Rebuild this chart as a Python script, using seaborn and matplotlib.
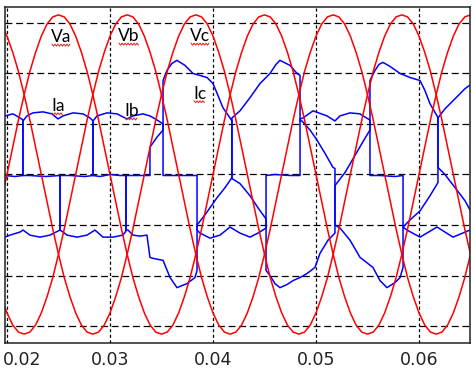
import numpy as np
import pandas as pd
import matplotlib
matplotlib.use('Agg')
import matplotlib.pyplot as plt
import matplotlib.transforms as mtransforms
from matplotlib.lines import Line2D
import seaborn as sns

# supply voltages, one sample every 10 deg of the 50 Hz wave
t_v = np.linspace(0.02 - 0.02 / 36, 0.065, 83)
va = [-0.27,
      0, 0.27, 0.54, 0.79, 1.02, 1.21, 1.37, 1.49, 1.56, 1.58, 1.56, 1.49, 1.37, 1.21, 1.02, 0.79, 0.54, 0.27,
      0, -0.27, -0.54, -0.79, -1.02, -1.21, -1.37, -1.49, -1.56, -1.58, -1.56, -1.49, -1.37, -1.21, -1.02, -0.79, -0.54, -0.27,
      0, 0.27, 0.54, 0.79, 1.02, 1.21, 1.37, 1.49, 1.56, 1.58, 1.56, 1.49, 1.37, 1.21, 1.02, 0.79, 0.54, 0.27,
      0, -0.27, -0.54, -0.79, -1.02, -1.21, -1.37, -1.49, -1.56, -1.58, -1.56, -1.49, -1.37, -1.21, -1.02, -0.79, -0.54, -0.27,
      0, 0.27, 0.54, 0.79, 1.02, 1.21, 1.37, 1.49, 1.56, 1.58]
vb = [-1.21, -1.37, -1.49, -1.56, -1.58, -1.56, -1.49, -1.37, -1.21, -1.02, -0.79, -0.54, -0.27,
      0, 0.27, 0.54, 0.79, 1.02, 1.21, 1.37, 1.49, 1.56, 1.58, 1.56, 1.49, 1.37, 1.21, 1.02, 0.79, 0.54, 0.27,
      0, -0.27, -0.54, -0.79, -1.02, -1.21, -1.37, -1.49, -1.56, -1.58, -1.56, -1.49, -1.37, -1.21, -1.02, -0.79, -0.54, -0.27,
      0, 0.27, 0.54, 0.79, 1.02, 1.21, 1.37, 1.49, 1.56, 1.58, 1.56, 1.49, 1.37, 1.21, 1.02, 0.79, 0.54, 0.27,
      0, -0.27, -0.54, -0.79, -1.02, -1.21, -1.37, -1.49, -1.56, -1.58, -1.56, -1.49, -1.37, -1.21, -1.02, -0.79]
vc = [1.49, 1.37, 1.21, 1.02, 0.79, 0.54, 0.27,
      0, -0.27, -0.54, -0.79, -1.02, -1.21, -1.37, -1.49, -1.56, -1.58, -1.56, -1.49, -1.37, -1.21, -1.02, -0.79, -0.54, -0.27,
      0, 0.27, 0.54, 0.79, 1.02, 1.21, 1.37, 1.49, 1.56, 1.58, 1.56, 1.49, 1.37, 1.21, 1.02, 0.79, 0.54, 0.27,
      0, -0.27, -0.54, -0.79, -1.02, -1.21, -1.37, -1.49, -1.56, -1.58, -1.56, -1.49, -1.37, -1.21, -1.02, -0.79, -0.54, -0.27,
      0, 0.27, 0.54, 0.79, 1.02, 1.21, 1.37, 1.49, 1.56, 1.58, 1.56, 1.49, 1.37, 1.21, 1.02, 0.79, 0.54, 0.27,
      0, -0.27, -0.54, -0.79]

# phase currents, breakpoints (a repeated time = a step)
ia_t = [0.01981, 0.02078, 0.02155, 0.02155, 0.02194, 0.02252, 0.02350, 0.02437, 0.02495, 0.02544,
        0.02641, 0.02738, 0.02806, 0.02835, 0.02835, 0.02903, 0.03000, 0.03097, 0.03155, 0.03155,
        0.03175, 0.03223, 0.03291, 0.03359, 0.03388, 0.03417, 0.03515, 0.03583, 0.03650, 0.03748,
        0.03825, 0.03845, 0.03845, 0.03922, 0.04039, 0.04117, 0.04184, 0.04184, 0.04262, 0.04359,
        0.04456, 0.04553, 0.04612, 0.04650, 0.04748, 0.04816, 0.04845, 0.04845, 0.04864, 0.04942,
        0.05010, 0.05087, 0.05165, 0.05184, 0.05184, 0.05233, 0.05330, 0.05427, 0.05553, 0.05621,
        0.05689, 0.05767, 0.05816, 0.05845, 0.05845, 0.05913, 0.06010, 0.06107, 0.06184, 0.06184,
        0.06252, 0.06350, 0.06447, 0.06515]
ia = [-0.01, -0.02, -0.01, 0.53, 0.58, 0.61, 0.62, 0.60, 0.55, 0.58,
      0.61, 0.60, 0.56, 0.53, -0.01, -0.02, 0.00, -0.01, -0.01, -0.55,
      -0.55, -0.60, -0.61, -0.60, -0.82, -0.83, -0.85, -1.02, -1.12, -1.08,
      -1.02, -0.95, -0.50, -0.40, -0.23, -0.13, -0.03, 0.56, 0.63, 0.76,
      0.90, 1.00, 1.09, 1.13, 1.08, 1.00, 0.98, 0.53, 0.53, 0.44,
      0.34, 0.21, 0.07, 0.06, -0.50, -0.53, -0.65, -0.82, -0.92, -1.05,
      -1.12, -1.07, -1.02, -0.92, -0.52, -0.45, -0.36, -0.21, -0.08, 0.56,
      0.65, 0.75, 0.85, 0.90]

ib_t = [0.01981, 0.02029, 0.02126, 0.02155, 0.02223, 0.02320, 0.02417, 0.02495, 0.02515, 0.02515,
        0.02612, 0.02757, 0.02835, 0.02835, 0.02874, 0.02971, 0.03068, 0.03165, 0.03223, 0.03320,
        0.03388, 0.03456, 0.03515, 0.03515, 0.03583, 0.03728, 0.03845, 0.03845, 0.03874, 0.03971,
        0.04068, 0.04165, 0.04262, 0.04359, 0.04437, 0.04515, 0.04515, 0.04602, 0.04748, 0.04845,
        0.04845, 0.04874, 0.04971, 0.05107, 0.05184, 0.05233, 0.05330, 0.05427, 0.05505, 0.05524,
        0.05524, 0.05621, 0.05767, 0.05845, 0.05845, 0.05883, 0.06010, 0.06175, 0.06330, 0.06495,
        0.06524]
ib = [-0.62, -0.60, -0.57, -0.55, -0.60, -0.62, -0.60, -0.56, -0.55, -0.01,
      -0.01, -0.02, -0.01, 0.53, 0.58, 0.61, 0.60, 0.55, 0.58, 0.60,
      0.58, 0.54, 0.50, -0.01, -0.01, -0.01, -0.01, -0.55, -0.58, -0.63,
      -0.60, -0.52, -0.58, -0.62, -0.58, -0.53, -0.01, 0.00, -0.01, -0.01,
      0.55, 0.56, 0.63, 0.58, 0.53, 0.58, 0.61, 0.60, 0.55, 0.54,
      -0.01, -0.01, -0.02, -0.01, -0.52, -0.55, -0.62, -0.52, -0.62, -0.55,
      -0.56]

ic_t = [0.01981, 0.02058, 0.02126, 0.02155, 0.02155, 0.02223, 0.02369, 0.02515, 0.02515, 0.02544,
        0.02583, 0.02680, 0.02777, 0.02854, 0.02932, 0.03029, 0.03126, 0.03155, 0.03155, 0.03243,
        0.03388, 0.03388, 0.03456, 0.03515, 0.03515, 0.03553, 0.03602, 0.03650, 0.03728, 0.03806,
        0.03874, 0.03942, 0.04000, 0.04049, 0.04097, 0.04165, 0.04184, 0.04184, 0.04262, 0.04359,
        0.04437, 0.04515, 0.04515, 0.04553, 0.04602, 0.04650, 0.04718, 0.04777, 0.04845, 0.04913,
        0.04990, 0.05039, 0.05117, 0.05184, 0.05184, 0.05282, 0.05379, 0.05476, 0.05524, 0.05524,
        0.05573, 0.05612, 0.05650, 0.05718, 0.05816, 0.05913, 0.06010, 0.06058, 0.06107, 0.06175,
        0.06184, 0.06184, 0.06252, 0.06350, 0.06447, 0.06515]
ic = [0.58, 0.60, 0.56, 0.54, -0.01, -0.01, -0.02, -0.01, -0.55, -0.57,
      -0.60, -0.62, -0.60, -0.55, -0.62, -0.62, -0.60, -0.56, -0.01, -0.01,
      -0.01, 0.27, 0.37, 0.44, 0.93, 1.03, 1.10, 1.13, 1.08, 1.00,
      0.98, 0.96, 0.90, 0.78, 0.66, 0.56, 0.53, -0.04, -0.09, -0.21,
      -0.33, -0.44, -0.95, -1.00, -1.08, -1.12, -1.09, -1.05, -1.02, -0.98,
      -0.92, -0.78, -0.65, -0.58, -0.11, 0.02, 0.19, 0.36, 0.44, 0.93,
      1.03, 1.09, 1.11, 1.07, 1.00, 0.96, 0.93, 0.83, 0.70, 0.58,
      0.56, 0.07, 0.00, -0.13, -0.26, -0.39]

tick_vals = [0.02, 0.03, 0.04, 0.05, 0.06]
tick_text = ['0.02', '0.03', '0.04', '0.05', '0.06']

# label text with its anchor (left edge, baseline) in data units
labels = [('Va', 0.02427, 1.31), ('Vb', 0.03078, 1.32), ('Vc', 0.03777, 1.32),
          ('Ia', 0.02427, 0.63), ('Ib', 0.03136, 0.58), ('Ic', 0.03806, 0.75)]

sns.set_theme(style='white')
plt.rcParams['font.family'] = ['DejaVu Sans']

fig = plt.figure(figsize=(4.74, 3.73), dpi=100)
ax = fig.add_axes([5 / 474, 30 / 373, 465 / 474, 336 / 373])

for tt, vals in [(ia_t, ia), (ib_t, ib), (ic_t, ic)]:
    df = pd.DataFrame({'t': tt, 'i': vals})
    sns.lineplot(data=df, x='t', y='i', sort=False, estimator=None,
                 color='#0000ff', lw=1.1, ax=ax)

for vals in [va, vb, vc]:
    sns.lineplot(x=t_v, y=vals, estimator=None, color='#ff0000', lw=1.1, ax=ax)

ax.set_xlim(0.019806, 0.064951)
ax.set_ylim(-1.668, 1.658)
ax.set_xticks(tick_vals)
ax.set_xticklabels(tick_text, fontsize=12.5, color='#222222')
ax.set_yticks([-1.5, -1.0, -0.5, 0, 0.5, 1.0, 1.5])
ax.set_yticklabels([])
ax.tick_params(length=0, pad=6)
ax.set_xlabel('')
ax.set_ylabel('')

first = ax.get_xticklabels()[0]
first.set_ha('left')
first.set_transform(first.get_transform() + mtransforms.ScaledTranslation(-4 / 100, 0, fig.dpi_scale_trans))

ax.set_axisbelow(True)
ax.xaxis.grid(True, color='black', linestyle=(0, (2.5, 2)), linewidth=0.9)
ax.yaxis.grid(True, color='black', linestyle=(0, (5.5, 3)), linewidth=0.9)
for s in ax.spines.values():
    s.set_visible(True)
    s.set_color('#222222')
    s.set_linewidth(1.1)

texts = []
for name, x, y in labels:
    texts.append(ax.text(x, y, name, ha='left', va='baseline', fontsize=12.5,
                         family=['Lato', 'DejaVu Sans'], color='black'))

# red wavy spell-check underline under each label
fig.canvas.draw()
rend = fig.canvas.get_renderer()
for txt, (name, x, y) in zip(texts, labels):
    bb = txt.get_window_extent(rend)
    base_y = ax.transData.transform((x, y))[1]
    xs = np.arange(bb.x0 + 1, bb.x1 - 0.5, 1.5)
    ys = base_y - 3 + np.where(np.arange(len(xs)) % 2 == 0, 1.0, -1.0)
    fig.add_artist(Line2D(xs, ys, transform=mtransforms.IdentityTransform(),
                          color='#e02020', lw=0.7))

fig.savefig('out.png', dpi=100)
